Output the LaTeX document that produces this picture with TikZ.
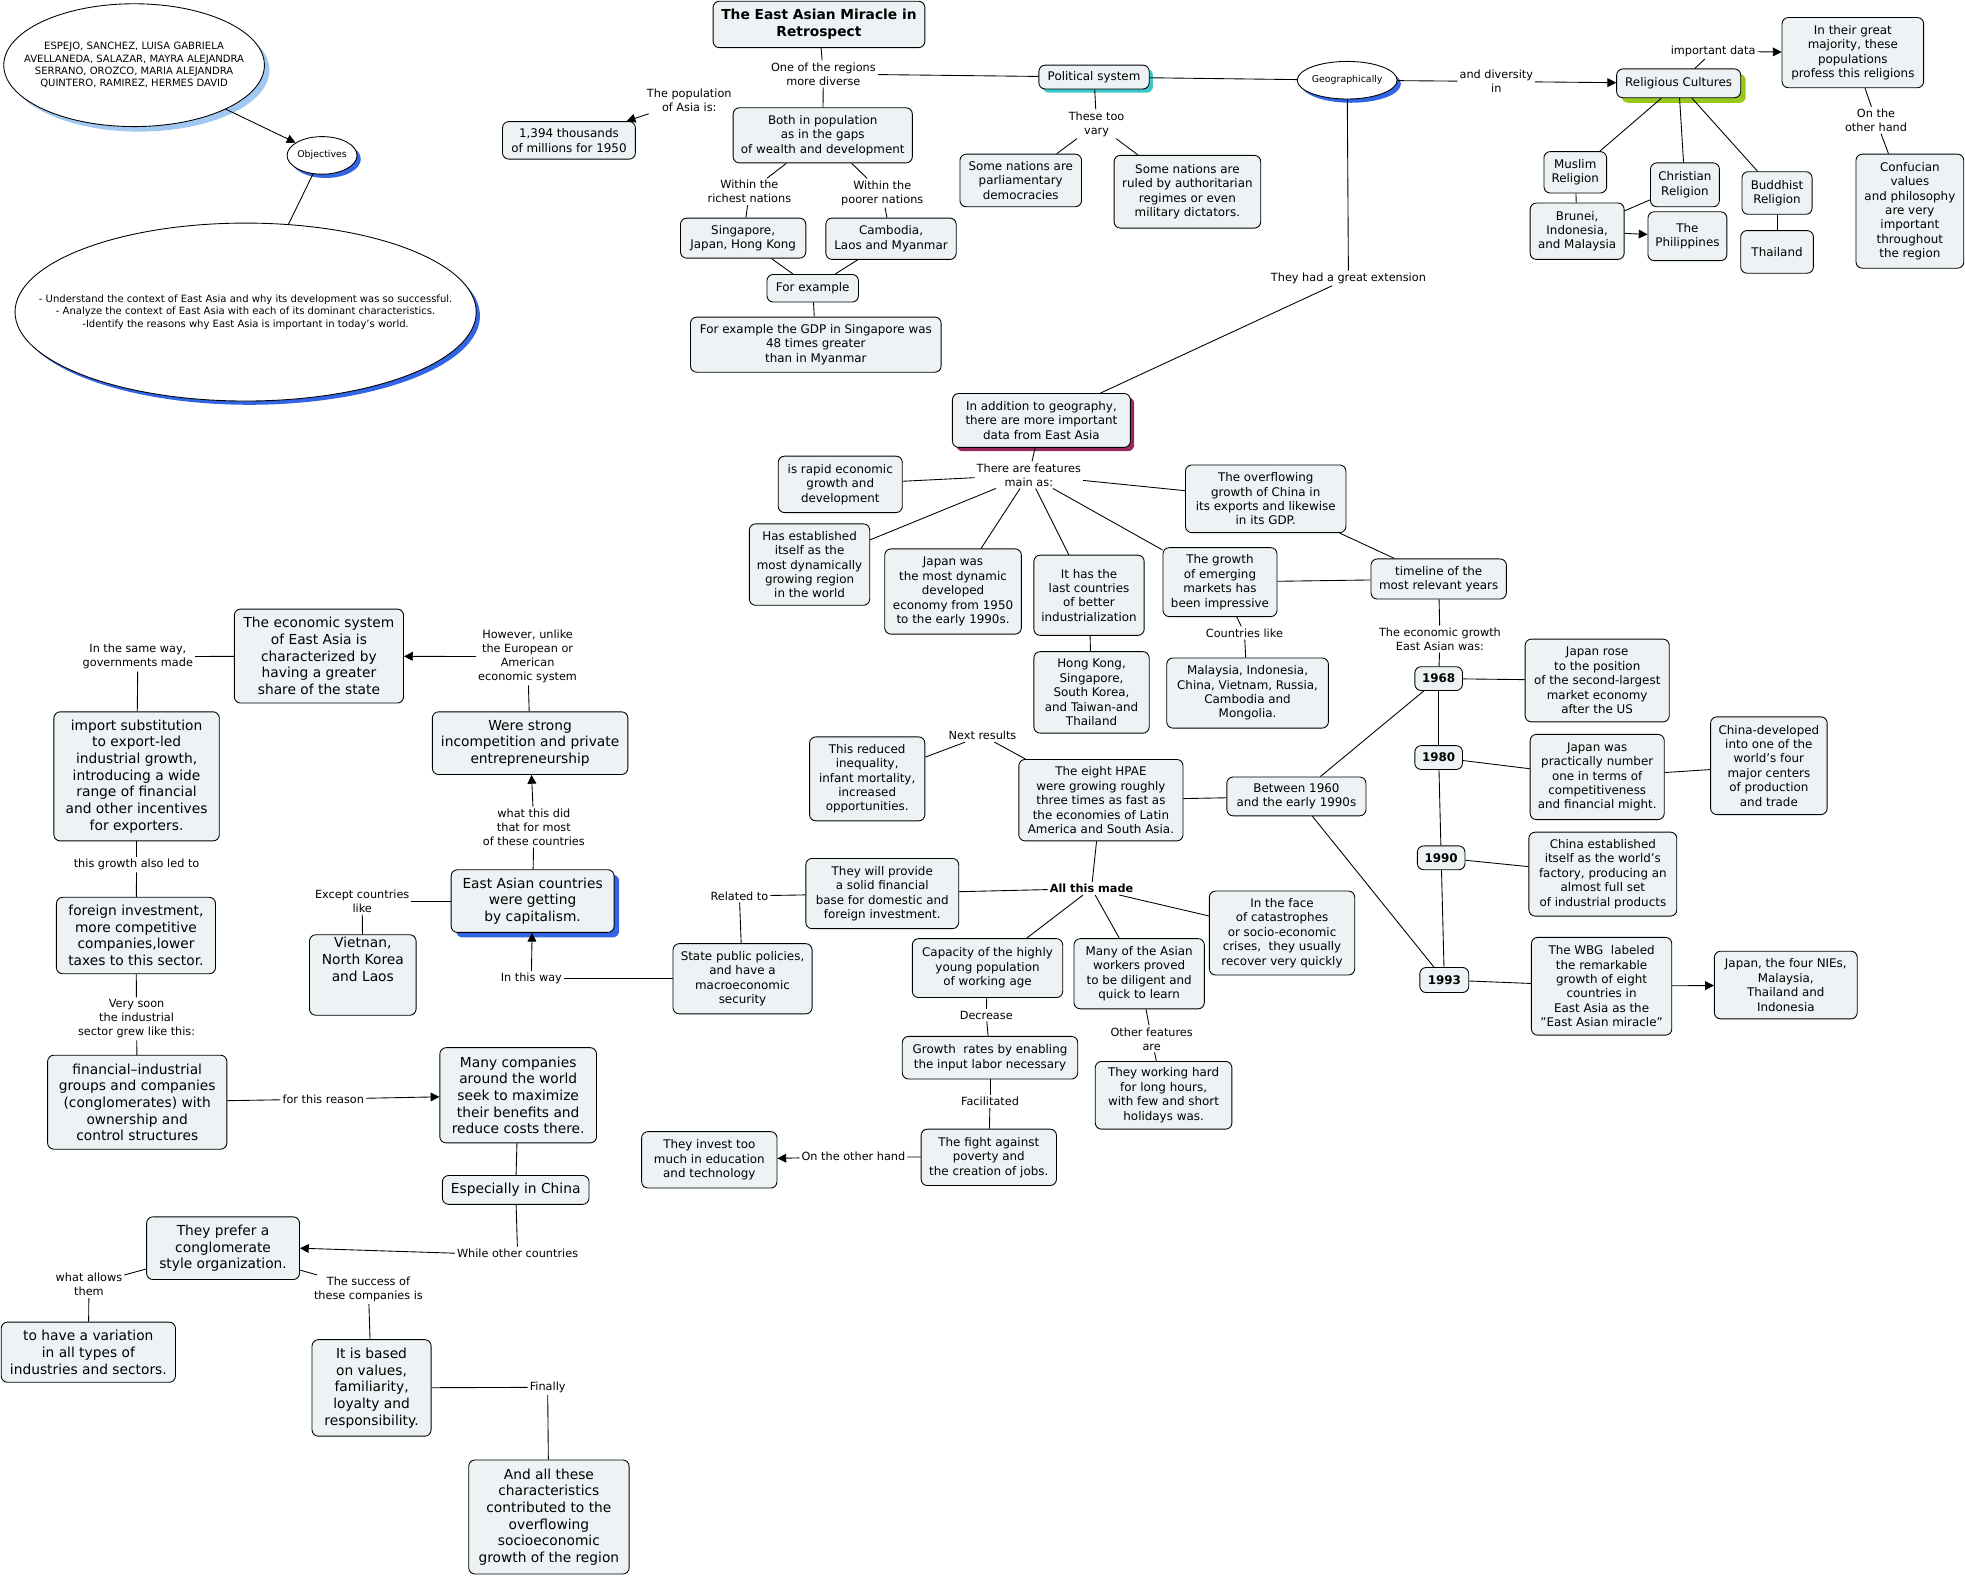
\documentclass[tikz,border=0pt]{standalone}
\usepackage{fontspec}
\setmainfont{DejaVu Sans}
\usetikzlibrary{arrows.meta,shapes.geometric,shadows}
\definecolor{boxfill}{RGB}{237,243,245}
\definecolor{shlb}{RGB}{160,200,240}
\definecolor{shblue}{RGB}{50,100,230}
\definecolor{shteal}{RGB}{60,200,200}
\definecolor{shgreen}{RGB}{150,200,30}
\definecolor{shmaroon}{RGB}{150,40,90}
\newcommand\fnorm{\fontsize{9.5}{11.5}\selectfont}
\newcommand\fbig{\fontsize{11}{13.3}\selectfont}
\newcommand\flab{\fontsize{9}{11.2}\selectfont}
\newcommand\fell{\fontsize{7.5}{9.6}\selectfont}
\newcommand\fellt{\fontsize{8}{9.8}\selectfont}
\tikzset{
  sz/.style 2 args={minimum width=#1pt, minimum height=#2pt},
  cbox/.style={draw=black, line width=0.7pt, rounded corners=5pt, fill=boxfill, align=center, inner sep=2pt, font=\fnorm},
  bbox/.style={cbox, font=\fbig},
  ybox/.style={cbox, font=\fnorm\bfseries},
  ell/.style={ellipse, draw=black, line width=0.7pt, fill=white, align=center, inner sep=0pt, font=\fell},
  etext/.style={align=center, inner sep=0pt, font=\fellt},
  lbl/.style={align=center, inner sep=1.5pt, font=\flab},
  ln/.style={draw=black, line width=0.7pt},
  arr/.style={ln, -{Triangle[length=7pt,width=7pt]}},
  shad/.style={drop shadow={shadow xshift=3pt, shadow yshift=-3pt, fill=#1, opacity=1}},
}
\begin{document}
\begin{tikzpicture}[x=1pt,y=-1pt]
\useasboundingbox (0,0) rectangle (1568,1262);
\fill[white] (0,0) rectangle (1568,1262);

% ellipses (fixed size, text set separately)
\node[ell, sz={208}{98}, drop shadow={shadow xshift=4pt, shadow yshift=-4pt, fill=shlb, opacity=1}] (authors) at (107,52) {};
\node[etext] (authorst) at (authors.center) {ESPEJO, SANCHEZ, LUISA GABRIELA\\AVELLANEDA, SALAZAR, MAYRA ALEJANDRA\\SERRANO, OROZCO, MARIA ALEJANDRA\\QUINTERO, RAMIREZ, HERMES DAVID};
\node[ell, sz={55}{30}, shad=shblue] (obj) at (257,124) {Objectives};
\node[ell, sz={368}{142}, shad=shblue] (objd) at (196,249) {};
\node[etext] (objdt) at (objd.center) {- Understand the context of East Asia and why its development was so successful.\\- Analyze the context of East Asia with each of its dominant characteristics.\\-Identify the reasons why East Asia is important in today's world.};
\node[ell, sz={73}{30}, shad=shblue] (geo) at (1075,64) {Geographically};

% top boxes
\node[cbox, sz={169}{37}, font=\fbig\bfseries] (title) at (653.5,19.5) {The East Asian Miracle in\\Retrospect};
\node[cbox, sz={106}{30}] (n1394) at (454,112) {1,394 thousands\\of millions for 1950};
\node[cbox, sz={143}{44}] (both) at (656.5,108) {Both in population\\as in the gaps\\of wealth and development};
\node[cbox, sz={100}{32}] (sing) at (593,190) {Singapore,\\Japan, Hong Kong};
\node[cbox, sz={104}{33}] (camb) at (711,190.5) {Cambodia,\\Laos and Myanmar};
\node[cbox, sz={73}{22}] (forex) at (648.5,230) {For example};
\node[cbox, sz={200}{44}] (gdp) at (651,275) {For example the GDP in Singapore was\\48 times greater\\than in Myanmar};
\node[cbox, sz={88}{19}, shad=shteal] (pol) at (873,61.5) {Political system};
\node[cbox, sz={97}{42}] (parl) at (814.5,144) {Some nations are\\parliamentary\\democracies};
\node[cbox, sz={117}{58}] (auth) at (947.5,153) {Some nations are\\ruled by authoritarian\\regimes or even\\military dictators.};
\node[cbox, sz={99}{23}, drop shadow={shadow xshift=4pt, shadow yshift=-4pt, fill=shgreen, opacity=1}] (rel) at (1339.5,66.5) {Religious Cultures};
\node[cbox, sz={113}{56}] (maj) at (1478.5,42) {In their great\\majority, these\\populations\\profess this religions};
\node[cbox, sz={86}{91}] (conf) at (1524,168.5) {Confucian\\values\\and philosophy\\are very\\important\\throughout\\the region};
\node[cbox, sz={50}{33}] (musl) at (1257,137.5) {Muslim\\Religion};
\node[cbox, sz={55}{35}] (chr) at (1344.5,147.5) {Christian\\Religion};
\node[cbox, sz={56}{34}] (bud) at (1418,154) {Buddhist\\Religion};
\node[cbox, sz={75}{45}] (brun) at (1258.5,184.5) {Brunei,\\Indonesia,\\and Malaysia};
\node[cbox, sz={63}{39}] (phil) at (1346.5,188.5) {The\\Philippines};
\node[cbox, sz={58}{34}] (thai) at (1418,201) {Thailand};

% middle
\node[cbox, sz={142}{43}, shad=shmaroon] (addit) at (831,335.5) {In addition to geography,\\there are more important\\data from East Asia};
\node[cbox, sz={99}{45}] (rapid) at (670.5,386.5) {is rapid economic\\growth and\\development};
\node[cbox, sz={96}{65}] (estab) at (646,450.5) {Has established\\itself as the\\most dynamically\\growing region\\in the world};
\node[cbox, sz={109}{68}] (japan1) at (760.5,472) {Japan was\\the most dynamic\\developed\\economy from 1950\\to the early 1990s.};
\node[cbox, sz={88}{64}] (last) at (869,475) {It has the\\last countries\\of better\\industrialization};
\node[cbox, sz={91}{55}] (emerg) at (973.5,464.5) {The growth\\of emerging\\markets has\\been impressive};
\node[cbox, sz={128}{54}] (overf) at (1010,398) {The overflowing\\growth of China in\\its exports and likewise\\in its GDP.};
\node[cbox, sz={92}{65}] (hk) at (871,552.5) {Hong Kong,\\Singapore,\\South Korea,\\and Taiwan-and\\Thailand};
\node[cbox, sz={129}{56}] (malay) at (995.5,553) {Malaysia, Indonesia,\\China, Vietnam, Russia,\\Cambodia and\\Mongolia.};
\node[cbox, sz={108}{32}] (timel) at (1148,462) {timeline of the\\most relevant years};
\node[ybox, sz={38}{19}] (y68) at (1148,541.5) {1968};
\node[ybox, sz={38}{19}] (y80) at (1148,604.5) {1980};
\node[ybox, sz={38}{19}] (y90) at (1150,684.5) {1990};
\node[ybox, sz={39}{20}] (y93) at (1152.5,782) {1993};
\node[cbox, sz={115}{66}] (jrose) at (1274.5,543) {Japan rose\\to the position\\of the second-largest\\market economy\\after the US};
\node[cbox, sz={107}{68}] (jprac) at (1274.5,620) {Japan was\\practically number\\one in terms of\\competitiveness\\and financial might.};
\node[cbox, sz={93}{78}] (chdev) at (1411.5,611) {China-developed\\into one of the\\world's four\\major centers\\of production\\and trade};
\node[cbox, sz={118}{67}] (chest) at (1279,697.5) {China established\\itself as the world's\\factory, producing an\\almost full set\\of industrial products};
\node[cbox, sz={112}{78}] (wbg) at (1278,787) {The WBG\ \ labeled\\the remarkable\\growth of eight\\countries in\\East Asia as the\\"East Asian miracle"};
\node[cbox, sz={114}{54}] (nies) at (1425,786) {Japan, the four NIEs,\\Malaysia,\\Thailand and\\Indonesia};
\node[cbox, sz={111}{31}] (betw) at (1034.5,635.5) {Between 1960\\and the early 1990s};
\node[cbox, sz={131}{65}] (hpae) at (878.5,638.5) {The eight HPAE\\were growing roughly\\three times as fast as\\the economies of Latin\\America and South Asia.};
\node[cbox, sz={92}{67}] (reduc) at (692,621.5) {This reduced\\inequality,\\infant mortality,\\increased\\opportunities.};
\node[cbox, sz={122}{56}] (solid) at (704,713) {They will provide\\a solid financial\\base for domestic and\\foreign investment.};
\node[cbox, sz={111}{56}] (state) at (592.5,781) {State public policies,\\and have a\\macroeconomic\\security};
\node[cbox, sz={120}{47}] (capac) at (788,772.5) {Capacity of the highly\\young population\\of working age};
\node[cbox, sz={140}{34}] (grow) at (790,844) {Growth\ \ rates by enabling\\the input labor necessary};
\node[cbox, sz={108}{45}] (fight) at (789,923.5) {The fight against\\poverty and\\the creation of jobs.};
\node[cbox, sz={108}{45}] (inves) at (566,925.5) {They invest too\\much in education\\and technology};
\node[cbox, sz={104}{56}] (dilig) at (909,777) {Many of the Asian\\workers proved\\to be diligent and\\quick to learn};
\node[cbox, sz={109}{54}] (hard) at (928.5,874) {They working hard\\for long hours,\\with few and short\\holidays was.};
\node[cbox, sz={116}{67}] (face) at (1023,744.5) {In the face\\of catastrophes\\or socio-economic\\crises,\ \ they usually\\recover very quickly};

% left
\node[bbox, sz={130}{50}, drop shadow={shadow xshift=4pt, shadow yshift=-4pt, fill=shblue, opacity=1}] (eac) at (425,719) {East Asian countries\\were getting\\by capitalism.};
\node[bbox, sz={156}{50}] (strong) at (423,593) {Were strong\\incompetition and private\\entrepreneurship};
\node[bbox, sz={135}{75}] (econ) at (254.5,523.5) {The economic system\\of East Asia is\\characterized by\\having a greater\\share of the state};
\node[bbox, sz={132}{103}] (imp) at (109,619.5) {import substitution\\to export-led\\industrial growth,\\introducing a wide\\range of financial\\and other incentives\\for exporters.};
\node[bbox, sz={127}{61}] (forg) at (108.5,746.5) {foreign investment,\\more competitive\\companies,lower\\taxes to this sector.};
\node[bbox, sz={143}{75}] (fin) at (109.5,879.5) {financial–industrial\\groups and companies\\(conglomerates) with\\ownership and\\control structures};
\node[bbox, sz={125}{76}] (many) at (413.5,874) {Many companies\\around the world\\seek to maximize\\their benefits and\\reduce costs there.};
\node[bbox, sz={117}{23}] (espc) at (411.5,949.5) {Especially in China};
\node[bbox, sz={122}{50}] (pref) at (178,996) {They prefer a\\conglomerate\\style organization.};
\node[bbox, sz={139}{48}] (vari) at (70.5,1079) {to have a variation\\in all types of\\industries and sectors.};
\node[bbox, sz={95}{77}] (based) at (296.5,1107.5) {It is based\\on values,\\familiarity,\\loyalty and\\responsibility.};
\node[bbox, sz={128}{91}] (allch) at (438,1210.5) {And all these\\characteristics\\contributed to the\\overflowing\\socioeconomic\\growth of the region};
\node[bbox, sz={85}{64}] (viet) at (289.5,778) {Vietnan,\\North Korea\\and Laos\\[12pt]};

% labels
\node[lbl] (lone) at (657,59) {One of the regions\\more diverse};
\node[lbl] (lpop) at (550,80) {The population\\of Asia is:};
\node[lbl] (lrich) at (598,153) {Within the\\richest nations};
\node[lbl] (lpoor) at (704,154) {Within the\\poorer nations};
\node[lbl] (lvary) at (875,99) {These too\\vary};
\node[lbl] (ldiv) at (1194,65) {and diversity\\in};
\node[lbl] (lext) at (1076,222) {They had a great extension};
\node[lbl] (limp) at (1367,41) {important data};
\node[lbl] (loth) at (1497,96) {On the\\other hand};
\node[lbl] (lfeat) at (821,379) {There are features\\main as:};
\node[lbl] (lctry) at (993,505) {Countries like};
\node[lbl] (legr) at (1149,510) {The economic growth\\East Asian was:};
\node[lbl] (lnext) at (784,587) {Next results};
\node[lbl, font=\flab\bfseries] (lall) at (871,709) {All this made};
\node[lbl] (lrel) at (590,715) {Related to};
\node[lbl] (lway) at (424,781) {In this way};
\node[lbl] (lwhat) at (426,660) {what this did\\that for most\\of these countries};
\node[lbl] (lhow) at (421,524) {However, unlike\\the European or\\American\\economic system};
\node[lbl] (lsame) at (110,524) {In the same way,\\governments made};
\node[lbl] (lexc) at (289,719) {Except countries\\like};
\node[lbl] (lled) at (109,690) {this growth also led to};
\node[lbl] (lsoon) at (109,813) {Very soon\\the industrial\\sector grew like this:};
\node[lbl] (lreas) at (258,877) {for this reason};
\node[lbl] (lwhile) at (413,1000) {While other countries};
\node[lbl] (lallow) at (71,1025) {what allows\\them};
\node[lbl] (lsucc) at (294,1029) {The success of\\these companies is};
\node[lbl] (lfin) at (437,1107) {Finally};
\node[lbl] (ldec) at (787,810) {Decrease};
\node[lbl] (lfac) at (790,879) {Facilitated};
\node[lbl] (lonh) at (681,923) {On the other hand};
\node[lbl] (lofe) at (919,829) {Other features\\are};

% connectors
\draw[arr] (authors) -- (obj);
\draw[ln] (obj) -- (objd);
\draw[ln] (title) -- (lone);
\draw[ln] (lone) -- (both);
\draw[ln] (lone) -- (pol);
\draw[ln] (pol) -- (geo);
\draw[arr] (lpop) -- (n1394);
\draw[ln] (both) -- (lrich);
\draw[ln] (lrich) -- (sing);
\draw[ln] (both) -- (lpoor);
\draw[ln] (lpoor) -- (camb);
\draw[ln] (sing) -- (forex);
\draw[ln] (camb) -- (forex);
\draw[ln] (forex) -- (gdp);
\draw[ln] (pol) -- (lvary);
\draw[ln] (lvary) -- (parl);
\draw[ln] (lvary) -- (auth);
\draw[ln] (geo) -- (ldiv);
\draw[arr] (ldiv) -- (rel);
\draw[ln] (geo) -- (lext);
\draw[ln] (lext) -- (addit);
\draw[ln] (rel) -- (limp);
\draw[arr] (limp) -- (maj);
\draw[ln] (maj) -- (loth);
\draw[ln] (loth) -- (conf);
\draw[ln] (rel) -- (musl);
\draw[ln] (rel) -- (chr);
\draw[ln] (rel) -- (bud);
\draw[ln] (musl) -- (brun);
\draw[ln] (brun) -- (chr);
\draw[arr] (brun) -- (phil);
\draw[ln] (bud) -- (thai);
\draw[ln] (addit) -- (lfeat);
\foreach \t in {rapid,estab,japan1,last,emerg,overf} \draw[ln] (lfeat) -- (\t);
\draw[ln] (last) -- (hk);
\draw[ln] (emerg) -- (lctry);
\draw[ln] (lctry) -- (malay);
\draw[ln] (overf) -- (timel);
\draw[ln] (emerg) -- (timel);
\draw[ln] (timel) -- (legr);
\draw[ln] (legr) -- (y68);
\draw[ln] (y68) -- (y80);
\draw[ln] (y80) -- (y90);
\draw[ln] (y90) -- (y93);
\draw[ln] (y68) -- (jrose);
\draw[ln] (y80) -- (jprac);
\draw[ln] (jprac) -- (chdev);
\draw[ln] (y90) -- (chest);
\draw[ln] (y93) -- (wbg);
\draw[arr] (wbg) -- (nies);
\draw[ln] (betw) -- (y68);
\draw[ln] (betw) -- (y93);
\draw[ln] (hpae) -- (betw);
\draw[ln] (lnext) -- (hpae);
\draw[ln] (lnext) -- (reduc);
\draw[ln] (hpae) -- (lall);
\foreach \t in {solid,capac,dilig,face} \draw[ln] (lall) -- (\t);
\draw[ln] (solid) -- (lrel);
\draw[ln] (lrel) -- (state);
\draw[ln] (state) -- (lway);
\draw[arr] (lway) -- (eac);
\draw[ln] (eac) -- (lwhat);
\draw[arr] (lwhat) -- (strong);
\draw[ln] (strong) -- (lhow);
\draw[arr] (lhow) -- (econ);
\draw[ln] (econ) -- (lsame);
\draw[ln] (lsame) -- (imp);
\draw[ln] (eac) -- (lexc);
\draw[ln] (lexc) -- (viet);
\draw[ln] (imp) -- (lled);
\draw[ln] (lled) -- (forg);
\draw[ln] (forg) -- (lsoon);
\draw[ln] (lsoon) -- (fin);
\draw[ln] (fin) -- (lreas);
\draw[arr] (lreas) -- (many);
\draw[ln] (many) -- (espc);
\draw[ln] (espc) -- (lwhile);
\draw[arr] (lwhile.west) -- (pref.east);
\draw[ln] (pref) -- (lallow);
\draw[ln] (lallow) -- (vari);
\draw[ln] (pref) -- (lsucc);
\draw[ln] (lsucc) -- (based);
\draw[ln] (based) -- (lfin);
\draw[ln] (lfin) -- (allch);
\draw[ln] (capac) -- (ldec);
\draw[ln] (ldec) -- (grow);
\draw[ln] (grow) -- (lfac);
\draw[ln] (lfac) -- (fight);
\draw[ln] (fight) -- (lonh);
\draw[arr] (lonh) -- (inves);
\draw[ln] (dilig) -- (lofe);
\draw[ln] (lofe) -- (hard);
\end{tikzpicture}
\end{document}
